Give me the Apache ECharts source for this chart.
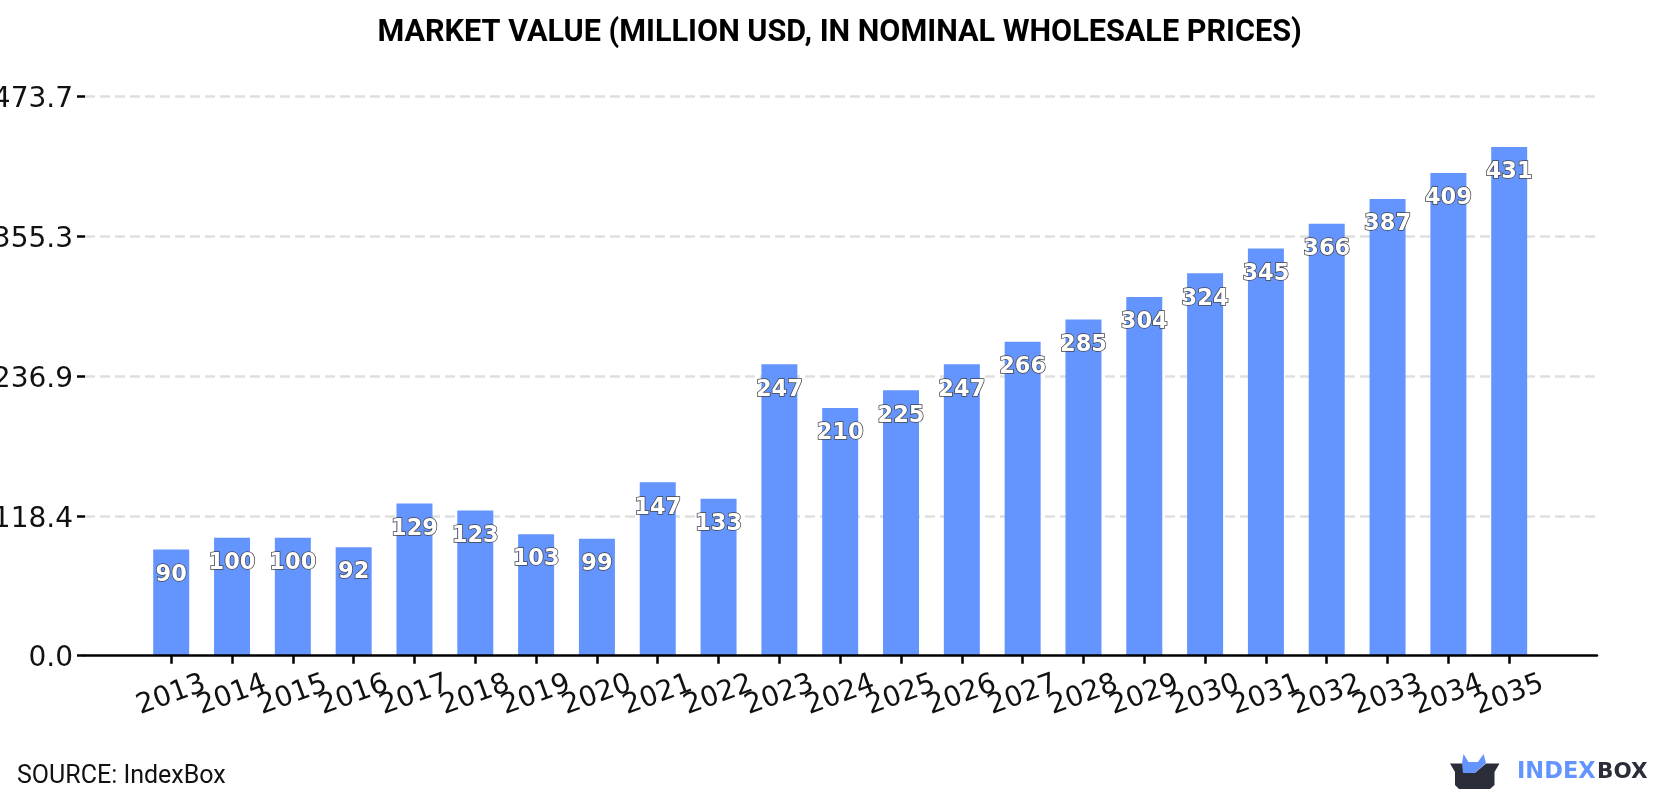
<!DOCTYPE html>
<html>
<head>
<meta charset="utf-8">
<style>html,body{margin:0;padding:0;background:#fff}#chart{width:1680px;height:800px}</style>
<script src="https://cdn.jsdelivr.net/npm/echarts@6/dist/echarts.min.js"></script>
</head>
<body>
<div id="chart"></div>
<script>
const years = ['2013','2014','2015','2016','2017','2018','2019','2020','2021','2022','2023','2024','2025','2026','2027','2028','2029','2030','2031','2032','2033','2034','2035'];
const marketValue = [90,100,100,92,129,123,103,99,147,133,247,210,225,247,266,285,304,324,345,366,387,409,431];
const yTicks = [0,118.4,236.9,355.3,473.7];
const yMax = 473.7;
const titleText = 'MARKET VALUE (MILLION USD, IN NOMINAL WHOLESALE PRICES)';
const sourceText = 'SOURCE: IndexBox';

const BLUE = '#6495ff', DARK = '#2b2d38';
const chart = echarts.init(document.getElementById('chart'), null, {renderer:'canvas'});
chart.setOption({
  animation:false,
  backgroundColor:'#fff',
  title:{text:titleText,left:834.6,top:13,textAlign:'center',
    textStyle:{fontFamily:'Roboto',fontWeight:'bold',fontSize:30.6,color:'#000'}},
  // Outer grid carries the long baseline and the value gridlines; the inner one holds the bars.
  grid:[
    {left:85,right:83,top:96.7,bottom:144.3,outerBoundsMode:'none'},
    {left:140.8,right:140.4,top:96.7,bottom:144.3,outerBoundsMode:'none'}
  ],
  xAxis:[
    {type:'category',gridIndex:0,data:years,offset:1.5,z:5,
      axisLine:{show:true,lineStyle:{color:'#000',width:2.5}},
      axisTick:{show:false},axisLabel:{show:false},splitLine:{show:false}},
    {type:'category',gridIndex:1,data:years,offset:1.5,
      axisLine:{show:false},
      axisTick:{show:true,alignWithLabel:true,length:8,lineStyle:{color:'#000',width:2.5}},
      axisLabel:{interval:0,rotate:20,margin:38,align:'center',verticalAlign:'middle',
        fontFamily:'DejaVu Sans',fontSize:28,color:'#111'}}
  ],
  yAxis:[
    {type:'value',gridIndex:0,min:0,max:yMax,
      axisLine:{show:false},
      axisTick:{show:true,customValues:yTicks,length:8,lineStyle:{color:'#000',width:2.5}},
      axisLabel:{customValues:yTicks,margin:12,verticalAlign:'top',lineHeight:7,fontFamily:'DejaVu Sans',fontSize:28,color:'#111',
        formatter:v=>v.toFixed(1)},
      splitLine:{show:true,showMinLine:false,lineStyle:{color:'#dfdfdf',type:[10,5],width:2.5}}},
    {type:'value',gridIndex:1,min:0,max:yMax,show:false}
  ],
  series:[{type:'bar',xAxisIndex:1,yAxisIndex:1,barWidth:36,
    data:marketValue,
    itemStyle:{color:BLUE},
    label:{show:true,position:'insideTop',distance:14,fontFamily:'DejaVu Sans',fontWeight:'bold',fontSize:22.5,
      color:'#fff',textBorderColor:'#444',textBorderWidth:1.5}}],
  graphic:[
    {type:'text',left:17,top:764,style:{text:sourceText,fontFamily:'Roboto',fontSize:25,fill:'#111'}},
    {type:'polygon',shape:{points:[[1462,763],[1463.5,754],[1468.5,762],[1478,762],[1483.5,754],[1486,763],[1475,773],[1462,773]]},style:{fill:BLUE}},
    {type:'polygon',shape:{points:[[1450,763.5],[1462,763.5],[1463,773],[1475,773],[1486,763.5],[1499.5,763.5],[1494.5,772],[1494.5,785],[1490,789],[1459,789],[1455,785],[1455,772]]},style:{fill:DARK}},
    {type:'text',left:1517,top:761,style:{text:'INDEX',fontFamily:'DejaVu Sans',fontWeight:'bold',fontSize:22.5,fill:BLUE}},
    {type:'text',left:1597,top:761,style:{text:'BOX',fontFamily:'DejaVu Sans',fontWeight:'bold',fontSize:21.5,fill:DARK}}
  ]
});
</script>
</body>
</html>
